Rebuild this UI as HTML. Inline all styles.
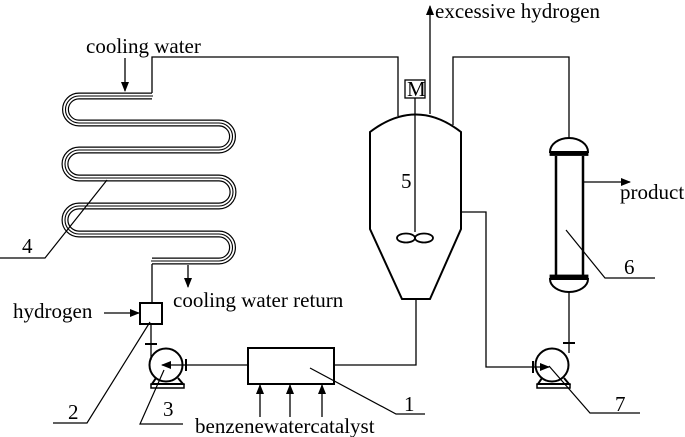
<!DOCTYPE html>
<html><head><style>
html,body{margin:0;padding:0;background:#fff;}
svg{display:block;}
text{font-family:"Liberation Serif",serif;font-size:21px;fill:#000;}
</style></head><body>
<svg width="685" height="437" viewBox="0 0 685 437" xmlns="http://www.w3.org/2000/svg">
<defs>
<marker id="ah" markerWidth="10" markerHeight="8" refX="9" refY="4" orient="auto" markerUnits="userSpaceOnUse">
<path d="M0,0 L10,4 L0,8 Z" fill="#000"/></marker>
</defs>
<g fill="none" stroke="#000">
<g id="coil">
<path d="M152,96 H79 A13.5,13.5 0 0 0 79,123 H219 A13.5,13.5 0 0 1 219,150 H79 A14,14 0 0 0 79,178 H219 A14,14 0 0 1 219,206 H79 A14,14 0 0 0 79,234 H219 A13.5,13.5 0 0 1 219,261 H152" stroke-width="7"/>
<path d="M153,96 H79 A13.5,13.5 0 0 0 79,123 H219 A13.5,13.5 0 0 1 219,150 H79 A14,14 0 0 0 79,178 H219 A14,14 0 0 1 219,206 H79 A14,14 0 0 0 79,234 H219 A13.5,13.5 0 0 1 219,261 H151" stroke="#fff" stroke-width="4.6"/>
<path d="M153,96 H79 A13.5,13.5 0 0 0 79,123 H219 A13.5,13.5 0 0 1 219,150 H79 A14,14 0 0 0 79,178 H219 A14,14 0 0 1 219,206 H79 A14,14 0 0 0 79,234 H219 A13.5,13.5 0 0 1 219,261 H151" stroke-width="1.1"/>
</g>
<path d="M152,93 V57 H398 V116" stroke-width="1.3"/>
<path d="M152,264 V303" stroke-width="1.3"/>
<line x1="125" y1="58" x2="125" y2="91" stroke-width="1.3" marker-end="url(#ah)"/>
<line x1="188" y1="265" x2="188" y2="287" stroke-width="1.3" marker-end="url(#ah)"/>
<rect x="140" y="303" width="22" height="21" stroke-width="2"/>
<line x1="104" y1="313" x2="139" y2="313" stroke-width="1.3" marker-end="url(#ah)"/>
<line x1="151" y1="324" x2="151" y2="360" stroke-width="1.3"/>
<line x1="145" y1="344" x2="157" y2="344" stroke-width="2"/>
<circle cx="166" cy="365" r="16.5" stroke-width="2"/>
<path d="M156,378 L152,384 H183 L178,378" stroke-width="2"/>
<rect x="151" y="384" width="33" height="4" stroke-width="1.5"/>
<line x1="248" y1="365" x2="162" y2="365" stroke-width="1.3" marker-end="url(#ah)"/>
<line x1="186" y1="359" x2="186" y2="371" stroke-width="2"/>
<rect x="248" y="348" width="86" height="36" stroke-width="2"/>
<line x1="260" y1="417" x2="260" y2="385" stroke-width="1.3" marker-end="url(#ah)"/>
<line x1="290" y1="417" x2="290" y2="385" stroke-width="1.3" marker-end="url(#ah)"/>
<line x1="322" y1="417" x2="322" y2="385" stroke-width="1.3" marker-end="url(#ah)"/>
<path d="M334,365 H416 V299" stroke-width="1.3"/>
<path d="M370,132 Q416,97 461,132 V229 L430,299 H402 L370,229 Z" stroke-width="2"/>
<rect x="405" y="80" width="20" height="18" stroke-width="1.3"/>
<line x1="415" y1="98" x2="415" y2="232" stroke-width="1.3"/>
<ellipse cx="406" cy="238" rx="9" ry="4.5" stroke-width="1.8"/>
<ellipse cx="424" cy="238" rx="9" ry="4.5" stroke-width="1.8"/>
<line x1="430" y1="114" x2="430" y2="6" stroke-width="1.3" marker-end="url(#ah)"/>
<path d="M453,125 V57 H569 V139" stroke-width="1.3"/>
<path d="M462,212 H486 V367 H549" stroke-width="1.3" marker-end="url(#ah)"/>
<line x1="533" y1="361" x2="533" y2="373" stroke-width="2"/>
<path d="M550,152 A19,14 0 0 1 588,152 Z" stroke-width="2"/>
<rect x="550" y="152" width="38" height="3.5" fill="#000" stroke-width="0.8"/>
<line x1="556" y1="156" x2="556" y2="275" stroke-width="2.5"/>
<line x1="583" y1="156" x2="583" y2="275" stroke-width="2.5"/>
<rect x="550" y="275" width="38" height="3.5" fill="#000" stroke-width="0.8"/>
<path d="M550,279 A19,13 0 0 0 588,279 Z" stroke-width="2"/>
<line x1="584" y1="182" x2="630" y2="182" stroke-width="1.3" marker-end="url(#ah)"/>
<line x1="569" y1="292" x2="569" y2="353" stroke-width="1.3"/>
<line x1="563" y1="343" x2="575" y2="343" stroke-width="2"/>
<circle cx="552" cy="365" r="16.5" stroke-width="2"/>
<path d="M542,378 L538,384 H569 L564,378" stroke-width="2"/>
<rect x="537" y="384" width="33" height="4" stroke-width="1.5"/>
<path d="M107,180 L45,258 H0" stroke-width="1.2"/>
<path d="M150,322 L87,423 H53" stroke-width="1.2"/>
<path d="M164,370 L140,424 H183" stroke-width="1.2"/>
<path d="M310,368 L396,414 H425" stroke-width="1.2"/>
<path d="M566,230 L605,278 H655" stroke-width="1.2"/>
<path d="M549,366 L590,413 H640" stroke-width="1.2"/>
</g>
<text x="86" y="53">cooling water</text>
<text x="173" y="307">cooling water return</text>
<text x="13" y="318">hydrogen</text>
<text x="195" y="433">benzenewatercatalyst</text>
<text x="435" y="18">excessive hydrogen</text>
<text x="620" y="199">product</text>
<text x="407" y="96" font-size="17">M</text>
<text x="401" y="188">5</text>
<text x="22" y="253">4</text>
<text x="68" y="419">2</text>
<text x="163" y="416">3</text>
<text x="404" y="411">1</text>
<text x="624" y="274">6</text>
<text x="615" y="411">7</text>
</svg>
</body></html>
